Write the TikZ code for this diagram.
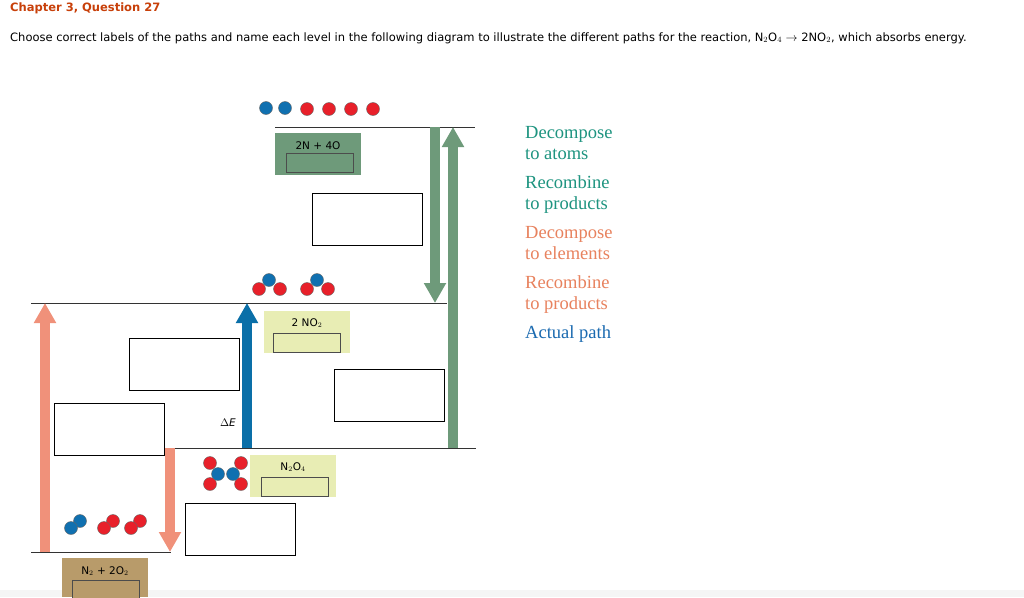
\documentclass[tikz,border=0pt]{standalone}
\usepackage{fontspec}
\setmainfont{DejaVu Sans}
\newfontfamily\legendfont{Liberation Serif}
\usetikzlibrary{arrows.meta}
\definecolor{hdorange}{HTML}{C8400A}
\definecolor{lvlgreen}{HTML}{6E9A7A}
\definecolor{lvlyellow}{HTML}{E8EDB4}
\definecolor{lvltan}{HTML}{B89B6A}
\definecolor{arrsalmon}{HTML}{F0917A}
\definecolor{arrblue}{HTML}{0A6FA8}
\definecolor{atomblue}{HTML}{1070B0}
\definecolor{atomred}{HTML}{E8202A}
\definecolor{legteal}{HTML}{1E9480}
\definecolor{legorange}{HTML}{E8825E}
\definecolor{legblue}{HTML}{1A6AB0}
\tikzset{
  level/.style={line width=1pt, black!80},
  path arrow/.style={line width=10pt, -{Triangle[width=21pt,length=20pt]}, draw=#1},
  answer/.style={draw, line width=0.8pt, fill=white, minimum width=110pt, minimum height=52pt, inner sep=0pt},
  tag/.style={fill=#1, minimum width=86pt, minimum height=42pt, inner sep=0pt},
  slot/.style={draw=black!70, line width=0.6pt, minimum width=67pt, minimum height=19pt, inner sep=0pt},
  blue atom/.style={circle, fill=atomblue, draw=black!60, line width=0.4pt, minimum size=13pt, inner sep=0pt},
  red atom/.style={circle, fill=atomred, draw=black!60, line width=0.4pt, minimum size=13pt, inner sep=0pt},
  legend/.style={anchor=north west, align=left, font=\legendfont\fontsize{18.5}{21}\selectfont, inner sep=0pt}
}
\begin{document}
\begin{tikzpicture}[x=1pt,y=-1pt]
\useasboundingbox (0,0) rectangle (1024,597);
\fill[white] (0,0) rectangle (1024,597);
\fill[black!4] (0,590) rectangle (1024,597);

% Header
\node[anchor=west, inner sep=0pt, text=hdorange, font=\bfseries\fontsize{11.5}{13}\selectfont] (title) at (10,8) {Chapter 3, Question 27};
\node[anchor=west, inner sep=0pt, font=\fontsize{11.5}{13}\selectfont] (question) at (10,38)
  {Choose correct labels of the paths and name each level in the following diagram to illustrate the different paths for the reaction, N$_2$O$_4$ $\rightarrow$ 2NO$_2$, which absorbs energy.};

% Levels
\draw[level] (275,127) coordinate (atomsL) -- (475,127) coordinate (atomsR);
\draw[level] (31,303) coordinate (noL) -- (447,303) coordinate (noR);
\draw[level] (170,448) coordinate (ntoL) -- (476,448) coordinate (ntoR);
\draw[level] (31,552) coordinate (elL) -- (171,552) coordinate (elR);

\coordinate (gdTop) at (435,127);
\coordinate (gdBot) at (435,303);
\coordinate (guBot) at (453,448);
\coordinate (guTop) at (453,127);
\coordinate (oBot) at (45,552);
\coordinate (oTop) at (45,303);
\coordinate (bBot) at (247,448);
\coordinate (bTop) at (247,303);
\coordinate (odTop) at (170,448);
\coordinate (odBot) at (170,552);

% Paths
\draw[path arrow=lvlgreen] (gdTop) -- (gdBot);
\draw[path arrow=lvlgreen] (guBot) -- (guTop);
\draw[path arrow=arrsalmon] (oBot) -- (oTop);
\draw[path arrow=arrblue] (bBot) -- (bTop);
\draw[path arrow=arrsalmon] (odTop) -- (odBot);

% Level tags
\node[tag=lvlgreen, anchor=north west] (tAtoms) at (275,133) {};
\node[font=\fontsize{10.5}{12}\selectfont] at (318,146) {2N + 4O};
\node[slot, fill=lvlgreen] (sAtoms) at (319.5,162.5) {};
\node[tag=lvlyellow, anchor=north west] (tNO) at (264,311) {};
\node[font=\fontsize{10.5}{12}\selectfont] at (307,323) {2 NO$_2$};
\node[slot, fill=lvlyellow] (sNO) at (306.5,343) {};
\node[tag=lvlyellow, anchor=north west] (tNTO) at (250,455) {};
\node[font=\fontsize{10.5}{12}\selectfont] at (293,467) {N$_2$O$_4$};
\node[slot, fill=lvlyellow] (sNTO) at (294.5,486.5) {};
\node[tag=lvltan, anchor=north west, minimum height=39pt] (tEl) at (62,558) {};
\node[font=\fontsize{10.5}{12}\selectfont] at (105,571) {N$_2$ + 2O$_2$};
\node[slot, fill=lvltan, anchor=north] (sEl) at (105.5,580) {};
\node[font=\itshape\fontsize{10.5}{12}\selectfont] (dE) at (228,423) {$\Delta$E};

% Answer boxes
\node[answer, anchor=north west] (a1) at (312,193) {};
\node[answer, anchor=north west] (a2) at (129,338) {};
\node[answer, anchor=north west] (a3) at (54,403) {};
\node[answer, anchor=north west] (a4) at (334,369) {};
\node[answer, anchor=north west] (a5) at (185,503) {};

% Atoms
\foreach \x in {266,285} \node[blue atom] at (\x,108) {};
\foreach \x in {307,329,351,373} \node[red atom] at (\x,109) {};
\foreach \x in {268,316} {
  \node[red atom] at (\x-9,289) {};
  \node[red atom] at (\x+12,289) {};
  \node[blue atom] at (\x+1,280) {};
}
\foreach \x/\y in {210/463,210/484,241/463,241/484} \node[red atom] at (\x,\y) {};
\node[blue atom] at (218,474) {};
\node[blue atom] at (233,474) {};
\node[blue atom] at (80,521) {};
\node[blue atom] at (71,528) {};
\foreach \x in {113,140} {
  \node[red atom] at (\x,521) {};
  \node[red atom] at (\x-9,528) {};
}

% Legend
\node[legend, text=legteal] (l1) at (525,126) {Decompose\\to atoms};
\node[legend, text=legteal] (l2) at (525,175) {Recombine\\to products};
\node[legend, text=legorange] (l3) at (525,226) {Decompose\\to elements};
\node[legend, text=legorange] (l4) at (525,275) {Recombine\\to products};
\node[legend, text=legblue] (l5) at (525,325) {Actual path};
\end{tikzpicture}
\end{document}
